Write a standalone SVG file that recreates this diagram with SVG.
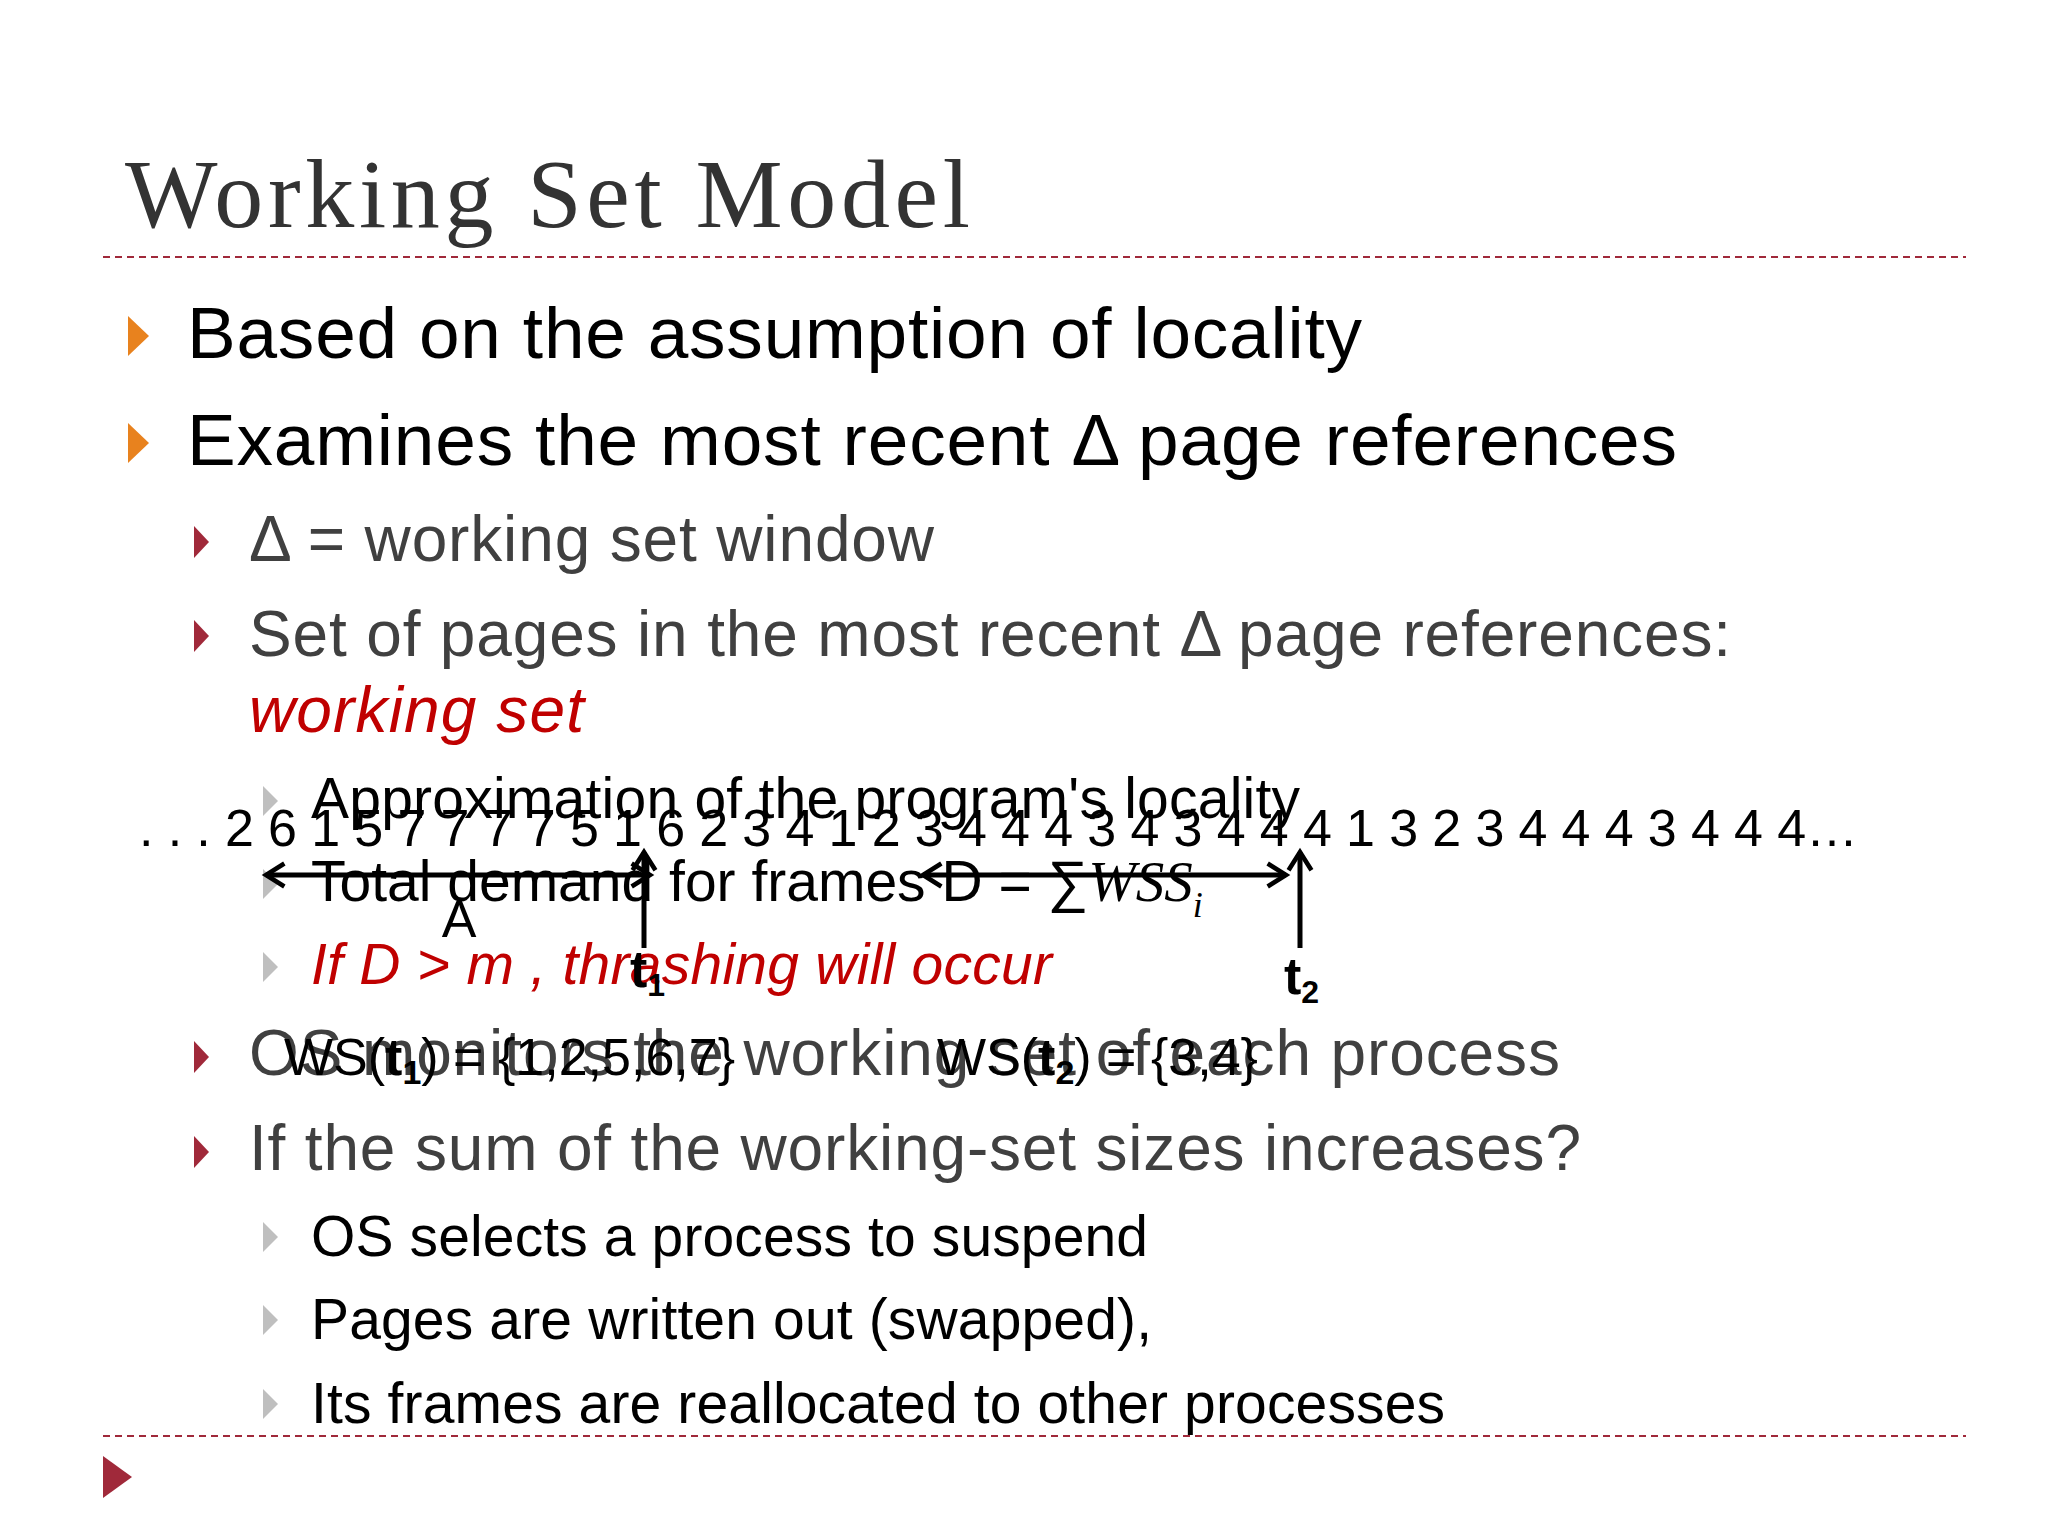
<svg xmlns="http://www.w3.org/2000/svg" width="2048" height="1536" viewBox="0 0 2048 1536">
<style>
.t1{font-family:"Liberation Sans",Arial,sans-serif;font-size:73px;fill:#000}
.t2{font-family:"Liberation Sans",Arial,sans-serif;font-size:64px;fill:#404040}
.t3{font-family:"Liberation Sans",Arial,sans-serif;font-size:57px;fill:#000}
.red{fill:#C00000;font-style:italic}
.ov{font-family:"Liberation Sans",Arial,sans-serif;font-size:52px;fill:#000}
.b1{fill:#E8821E}.b2{fill:#A0293A}.b3{fill:#BFBFBF}
.dash{stroke:#A0293A;stroke-width:2;stroke-dasharray:7 5}
.ar{stroke:#000;stroke-width:5;fill:none}
</style>
<defs>
<marker id="ah" viewBox="0 0 12 12" refX="10" refY="6" markerWidth="5.5" markerHeight="5.5" orient="auto-start-reverse" markerUnits="strokeWidth"><path d="M2,1 L10,6 L2,11" fill="none" stroke="#000" stroke-width="2"/></marker>
</defs>
<rect width="2048" height="1536" fill="#fff"/>
<g id="title">
<text x="125" y="227" font-family="Liberation Serif,'Times New Roman',serif" font-size="98" fill="#333" textLength="845">Working Set Model</text>
<line class="dash" x1="103" y1="257" x2="1966" y2="257"/>
<line class="dash" x1="103" y1="1436" x2="1966" y2="1436"/>
<path class="b2" d="M103,1456 L132,1477 L103,1498 Z"/>
</g>
<g id="bullets">
<path class="b1" d="M128,316 L149,336 L128,356 Z"/>
<text class="t1" x="187" y="358" textLength="1175">Based on the assumption of locality</text>
<path class="b1" d="M128,423 L149,443 L128,463 Z"/>
<text class="t1" x="187" y="465" textLength="1490">Examines the most recent Δ page references</text>
<path class="b2" d="M194,526 L209,542 L194,558 Z"/>
<text class="t2" x="249" y="561" textLength="685">Δ = working set window</text>
<path class="b2" d="M194,620 L209,636 L194,652 Z"/>
<text class="t2" x="249" y="656" textLength="1482">Set of pages in the most recent Δ page references:</text>
<text class="t2 red" x="249" y="732" textLength="335">working set</text>
<path class="b3" d="M263,786 L278,801 L263,816 Z"/>
<text class="t3" x="311" y="818" textLength="989">Approximation of the program's locality</text>
<path class="b3" d="M263,869 L278,884 L263,899 Z"/>
<text class="t3" x="311" y="901">Total demand for frames  D = ∑<tspan font-family="Liberation Serif,serif" font-style="italic">WSS</tspan><tspan font-family="Liberation Serif,serif" font-style="italic" font-size="36" dy="16">i</tspan></text>
<path class="b3" d="M263,952 L278,967 L263,982 Z"/>
<text class="t3 red" x="311" y="984" textLength="741">If D &gt; m , thrashing will occur</text>
<path class="b2" d="M194,1041 L209,1057 L194,1073 Z"/>
<text class="t2" x="249" y="1075" textLength="1311">OS monitors the working set of each process</text>
<path class="b2" d="M194,1136 L209,1152 L194,1168 Z"/>
<text class="t2" x="249" y="1170" textLength="1332">If the sum of the working-set sizes increases?</text>
<path class="b3" d="M263,1222 L278,1237 L263,1252 Z"/>
<text class="t3" x="311" y="1256" textLength="837">OS selects a process to suspend</text>
<path class="b3" d="M263,1305 L278,1320 L263,1335 Z"/>
<text class="t3" x="311" y="1339" textLength="841">Pages are written out (swapped),</text>
<path class="b3" d="M263,1389 L278,1404 L263,1419 Z"/>
<text class="t3" x="311" y="1423" textLength="1134">Its frames are reallocated to other processes</text>
</g>
<g id="sequence">
<text class="ov" x="139" y="846" textLength="1719">. . . 2 6 1 5 7 7 7 7 5 1 6 2 3 4 1 2 3 4 4 4 3 4 3 4 4 4 1 3 2 3 4 4 4 3 4 4 4…</text>
</g>
<g id="connectors">
<line class="ar" x1="266" y1="875" x2="650" y2="875" marker-start="url(#ah)" marker-end="url(#ah)"/>
<line class="ar" x1="923" y1="875" x2="1286" y2="875" marker-start="url(#ah)" marker-end="url(#ah)"/>
<line class="ar" x1="644" y1="948" x2="644" y2="852" marker-end="url(#ah)"/>
<line class="ar" x1="1300" y1="948" x2="1300" y2="852" marker-end="url(#ah)"/>
</g>
<g id="labels">
<text class="ov" x="459" y="937" text-anchor="middle" font-size="46">A</text>
<text class="ov" x="630" y="987" font-weight="bold" font-size="46">t<tspan font-size="32" dy="9">1</tspan></text>
<text class="ov" x="1284" y="994" font-weight="bold" font-size="46">t<tspan font-size="32" dy="9">2</tspan></text>
<text class="ov" x="284" y="1075">WS(<tspan font-weight="bold">t</tspan><tspan font-weight="bold" font-size="34" dy="9">1</tspan><tspan dy="-9">) = {1,2,5,6,7}</tspan></text>
<text class="ov" x="937" y="1075">WS(<tspan font-weight="bold">t</tspan><tspan font-weight="bold" font-size="34" dy="9">2</tspan><tspan dy="-9">) = {3,4}</tspan></text>
</g>
</svg>
